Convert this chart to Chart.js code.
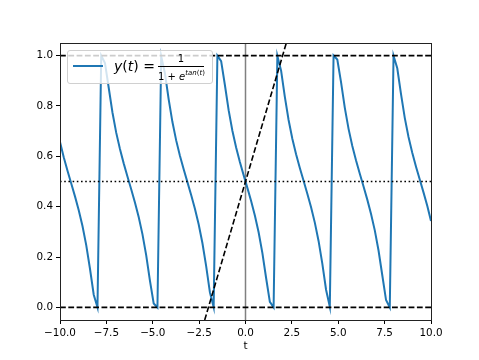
<!DOCTYPE html>
<html>
<head>
<meta charset="utf-8">
<script src="https://cdn.jsdelivr.net/npm/chart.js@4"></script>
<style>
  body { margin: 0; background: #fff; }
  #wrap { position: relative; width: 479px; height: 360px; }
  #legend {
    position: absolute; left: 67px; top: 50px; width: 144px; height: 32px;
    background: rgba(255,255,255,0.8); border: 1px solid #d0d0d0; border-radius: 3px;
    font-family: "DejaVu Sans", sans-serif; color: #000;
  }
  #legend .sample { position: absolute; left: 5px; top: 14px; width: 30px; height: 2px; background: #1f77b4; }
  #legend .lhs { position: absolute; left: 46px; top: 7px; font-size: 14px; line-height: 16px; white-space: nowrap; }
  #legend .num { position: absolute; left: 90px; width: 46px; top: 2px; text-align: center; font-size: 10px; line-height: 11px; }
  #legend .bar { position: absolute; left: 90px; width: 46px; top: 15px; height: 1px; background: #000; }
  #legend .den { position: absolute; left: 90px; top: 17px; font-size: 10px; line-height: 12px; white-space: nowrap; }
  #legend .den sup { font-size: 7px; position: relative; top: -1px; }
</style>
</head>
<body>
<div id="wrap">
  <canvas id="chart" width="479" height="360"></canvas>
  <div id="legend">
    <span class="sample"></span>
    <span class="lhs"><i>y</i>(<i>t</i>) =</span>
    <span class="num">1</span>
    <span class="bar"></span>
    <span class="den">1 + <i>e</i><sup><i>tan</i>(<i>t</i>)</sup></span>
  </div>
</div>
<script>
// samples of the curve
const tValues = [
  -10.000, -9.798, -9.596, -9.394, -9.192, -8.990, -8.788, -8.586, -8.384, -8.182,
  -7.980, -7.778, -7.576, -7.374, -7.172, -6.970, -6.768, -6.566, -6.364, -6.162,
  -5.960, -5.758, -5.556, -5.354, -5.152, -4.949, -4.747, -4.545, -4.343, -4.141,
  -3.939, -3.737, -3.535, -3.333, -3.131, -2.929, -2.727, -2.525, -2.323, -2.121,
  -1.919, -1.717, -1.515, -1.313, -1.111, -0.909, -0.707, -0.505, -0.303, -0.101,
  0.101, 0.303, 0.505, 0.707, 0.909, 1.111, 1.313, 1.515, 1.717, 1.919,
  2.121, 2.323, 2.525, 2.727, 2.929, 3.131, 3.333, 3.535, 3.737, 3.939,
  4.141, 4.343, 4.545, 4.747, 4.949, 5.152, 5.354, 5.556, 5.758, 5.960,
  6.162, 6.364, 6.566, 6.768, 6.970, 7.172, 7.374, 7.576, 7.778, 7.980,
  8.182, 8.384, 8.586, 8.788, 8.990, 9.192, 9.394, 9.596, 9.798, 10.000
];
const yValues = [
  0.6566, 0.5967, 0.5431, 0.4923, 0.4410, 0.3859, 0.3231, 0.2472, 0.1534, 0.0503,
  0.0004, 1.0000, 0.9707, 0.8723, 0.7740, 0.6940, 0.6287, 0.5720, 0.5201, 0.4695,
  0.4169, 0.3589, 0.2910, 0.2076, 0.1064, 0.0158, 0.0000, 0.9974, 0.9299, 0.8259,
  0.7360, 0.6633, 0.6024, 0.5484, 0.4974, 0.4463, 0.3918, 0.3300, 0.2557, 0.1638,
  0.0595, 0.0011, 1.0000, 0.9780, 0.8833, 0.7833, 0.7015, 0.6348, 0.5775, 0.5253,
  0.4747, 0.4225, 0.3652, 0.2985, 0.2167, 0.1167, 0.0220, 0.0000, 0.9989, 0.9405,
  0.8362, 0.7443, 0.6700, 0.6082, 0.5537, 0.5026, 0.4516, 0.3976, 0.3367, 0.2640,
  0.1741, 0.0701, 0.0027, 1.0000, 0.9842, 0.8936, 0.7924, 0.7090, 0.6411, 0.5831,
  0.5305, 0.4799, 0.4280, 0.3713, 0.3060, 0.2260, 0.1277, 0.0293, 0.0000, 0.9996,
  0.9497, 0.8466, 0.7528, 0.6769, 0.6141, 0.5590, 0.5077, 0.4569, 0.4033, 0.3434
];

// reference lines
const dashedLevels = [0, 1];
const dottedLevel = 0.5;
const vLineAt = 0;
const slopeT = [-2.2, 2.2];
const slopeY = [-0.05, 1.05];

const xTicks = [-10, -7.5, -5, -2.5, 0, 2.5, 5, 7.5, 10];
const yTicks = [0, 0.2, 0.4, 0.6, 0.8, 1.0];
const xRange = [-10, 10];
const yRange = [-0.05, 1.05];

const font = { family: 'DejaVu Sans', size: 10.4 };

function hLine(y) {
  return [{ x: xRange[0], y: y }, { x: xRange[1], y: y }];
}

const datasets = [
  {
    data: tValues.map((t, i) => ({ x: t, y: yValues[i] })),
    borderColor: '#1f77b4', borderWidth: 2, order: 1
  },
  {
    data: [{ x: vLineAt, y: yRange[0] }, { x: vLineAt, y: yRange[1] }],
    borderColor: '#808080', borderWidth: 1.5, order: 2
  },
  {
    data: slopeT.map((t, i) => ({ x: t, y: slopeY[i] })),
    borderColor: '#000', borderWidth: 1.6, borderDash: [5.8, 2.5], order: 0
  },
  {
    data: hLine(dottedLevel),
    borderColor: '#000', borderWidth: 1.6, borderDash: [1.6, 2.6], order: 0
  }
];
dashedLevels.forEach(v => {
  datasets.push({
    data: hLine(v),
    borderColor: '#000', borderWidth: 1.6, borderDash: [5.8, 2.5], order: 0
  });
});
datasets.forEach(d => {
  d.showLine = true;
  d.pointRadius = 0;
  d.fill = false;
  d.tension = 0;
});

const frame = {
  id: 'frame',
  afterDatasetsDraw(chart) {
    const a = chart.chartArea;
    const ctx = chart.ctx;
    ctx.save();
    ctx.strokeStyle = '#222';
    ctx.lineWidth = 1;
    ctx.strokeRect(Math.round(a.left) + 0.5, Math.round(a.top) + 0.5,
      Math.round(a.right - a.left), Math.round(a.bottom - a.top));
    ctx.restore();
  }
};

const minus = v => String(v).replace('-', '\u2212');

new Chart(document.getElementById('chart'), {
  type: 'scatter',
  data: { datasets: datasets },
  plugins: [frame],
  options: {
    responsive: false,
    animation: false,
    layout: { padding: { top: 43, right: 48, left: 0, bottom: 7 } },
    plugins: { legend: { display: false }, tooltip: { enabled: false } },
    scales: {
      x: {
        type: 'linear', min: xRange[0], max: xRange[1],
        afterBuildTicks: s => { s.ticks = xTicks.map(v => ({ value: v })); },
        afterFit: s => { s.height = 33; },
        grid: { drawOnChartArea: false, tickLength: 4, tickColor: '#000' },
        border: { display: false },
        ticks: { font: font, color: '#000', padding: 3, maxRotation: 0,
          callback: v => minus(v.toFixed(1)) },
        title: { display: true, text: 't', font: font, color: '#000', padding: 0 }
      },
      y: {
        type: 'linear', min: yRange[0], max: yRange[1],
        afterBuildTicks: s => { s.ticks = yTicks.map(v => ({ value: v })); },
        afterFit: s => { s.width = 60; },
        grid: { drawOnChartArea: false, tickLength: 4, tickColor: '#000' },
        border: { display: false },
        ticks: { font: font, color: '#000', padding: 3,
          callback: v => minus(v.toFixed(1)) }
      }
    }
  }
});
</script>
</body>
</html>
